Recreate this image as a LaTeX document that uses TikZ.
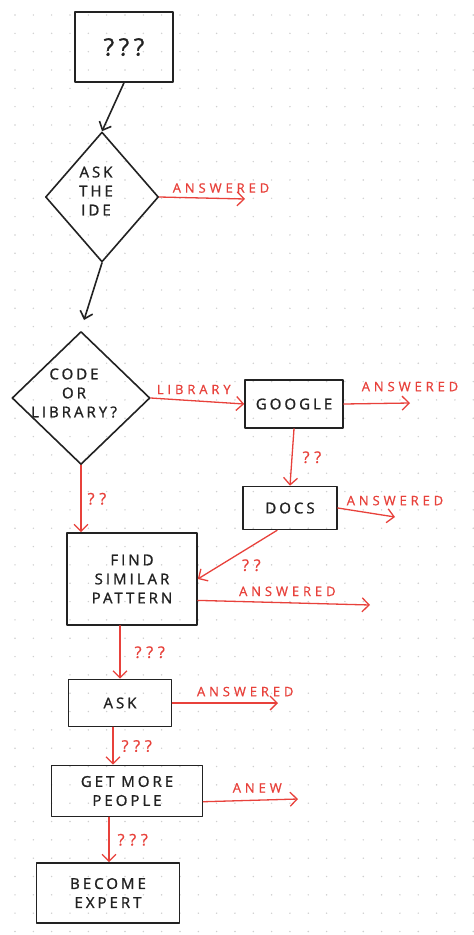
\documentclass[tikz,border=0pt]{standalone}
\usepackage{fontspec}
\usetikzlibrary{arrows.meta,shapes.geometric,calc}
\newfontfamily\hand[LetterSpace=20,FakeBold=1.2]{Open Sans}
\newfontfamily\handr[LetterSpace=30,FakeBold=0.8]{Open Sans}
\definecolor{ink}{HTML}{222222}
\definecolor{pen}{HTML}{E8413B}
\definecolor{griddot}{HTML}{CFCFCF}
\begin{document}
\begin{tikzpicture}[x=1pt,y=-1pt,line cap=round,line join=round,
  box/.style={draw=ink, line width=1.6pt, inner sep=0pt, align=center, text=ink, font=\hand\fontsize{15}{19}\selectfont},
  dia/.style={draw=ink, line width=1.6pt, shape=diamond, inner sep=0pt},
  txt/.style={align=center, text=ink, font=\hand\fontsize{15}{19}\selectfont, inner sep=0pt},
  blk/.style={draw=ink, line width=1.6pt, -{Straight Barb[length=7pt,width=13pt]}},
  redarrow/.style={draw=pen, line width=1.3pt, -{Straight Barb[length=7pt,width=14pt]}},
  lbl/.style={text=pen, font=\handr\fontsize{13}{15}\selectfont, inner sep=2pt},
  qq/.style={text=pen, font=\handr\fontsize{16}{18}\selectfont, inner sep=2pt},
]
\useasboundingbox[fill=white] (0,0) rectangle (474,935);
\foreach \i in {0,...,25}{
  \foreach \j in {0,...,50}{
    \fill[griddot] (15+18.33*\i, 15+18.33*\j) circle (0.8pt);
  }
}
% nodes
\node[box, minimum width=98pt, minimum height=70pt, font=\hand\fontsize{24}{26}\selectfont] (start) at (124,47) {???};
\node[dia, minimum width=113pt, minimum height=130pt] (ide) at (102,197) {};
\node[txt] (idetxt) at (96,191) {ASK\\THE\\IDE};
\node[dia, minimum width=138pt, minimum height=133pt] (code) at (81,398) {};
\node[txt] (codetxt) at (74,393) {CODE\\OR\\LIBRARY?};
\node[box, minimum width=98pt, minimum height=48pt] (google) at (294,404) {GOOGLE};
\node[box, minimum width=94pt, minimum height=43pt] (docs) at (290,508) {DOCS};
\node[box, minimum width=130pt, minimum height=92pt] (find) at (132,579) {FIND\\SIMILAR\\PATTERN};
\node[box, minimum width=103pt, minimum height=47pt] (ask) at (120,703) {ASK};
\node[box, minimum width=151pt, minimum height=51pt] (people) at (127,791) {GET MORE\\PEOPLE};
\node[box, minimum width=143pt, minimum height=60pt] (expert) at (108,893) {BECOME\\EXPERT};
% free ends and helper points
\coordinate (e1) at (245,199);
\coordinate (e2) at (410,403);
\coordinate (e3) at (395,517);
\coordinate (e4) at (370,605);
\coordinate (e5) at (278,703);
\coordinate (e6) at (298,799);
\coordinate (ideup) at (84,320);
\coordinate (a1) at ($(ask.south)+(-7,0)$);
\coordinate (p1) at ($(people.south)+(-18,0)$);
% black connectors
\draw[blk] (start.south) -- (ide.north);
\draw[blk] (ide.south) -- (ideup);
% red connectors
\draw[redarrow] (ide.east) -- node[lbl, above=3pt, pos=0.72] {ANSWERED} (e1);
\draw[redarrow] (code.east) -- node[lbl, above=4pt, pos=0.46] {LIBRARY} (google.west);
\draw[redarrow] (google.east) -- node[lbl, above=9pt, pos=1] {ANSWERED} (e2);
\draw[redarrow] (google.south) -- node[qq, right=8pt] {??} (docs.north);
\draw[redarrow] (docs.east) -- node[lbl, above=9pt, pos=1] {ANSWERED} (e3);
\draw[redarrow] (docs.-120) -- node[qq, below right=2pt] {??} (find.east);
\draw[redarrow] (code.south) -- node[qq, right=4pt] {??} (code.south |- find.north);
\draw[redarrow] (find.-18) -- node[lbl, above=4pt, pos=0.52] {ANSWERED} (e4);
\draw[redarrow] (ask.north |- find.south) -- node[qq, right=12pt] {???} (ask.north);
\draw[redarrow] (ask.east) -- node[lbl, above=4pt, pos=0.69] {ANSWERED} (e5);
\draw[redarrow] (a1) -- node[qq, right=6pt] {???} (a1 |- people.north);
\draw[redarrow] (people.-8) -- node[lbl, above=5pt, pos=0.57] {ANEW} (e6);
\draw[redarrow] (p1) -- node[qq, right=6pt] {???} (p1 |- expert.north);
\end{tikzpicture}
\end{document}
